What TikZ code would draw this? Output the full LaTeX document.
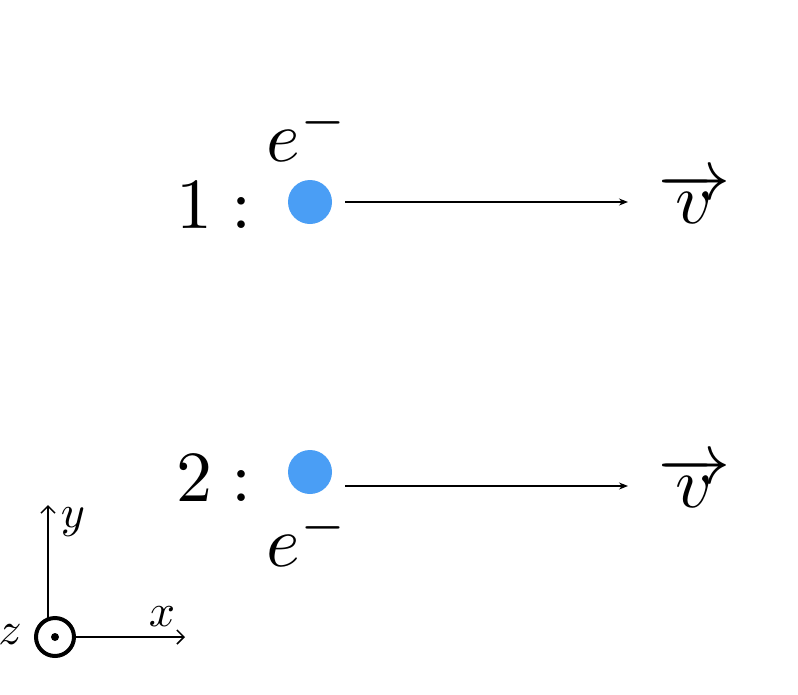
\documentclass[tikz,border=0pt]{standalone}
\usetikzlibrary{arrows.meta}
\begin{document}
\begin{tikzpicture}[x=1pt,y=-1pt,
  elec/.style={circle,fill={rgb,255:red,74;green,158;blue,245},minimum size=44pt,inner sep=0pt},
  big/.style={scale=7.2,inner sep=0pt},
  med/.style={scale=4.6,inner sep=0pt},
  vel/.style={-{Stealth[length=9pt,width=7pt]},line width=1.2pt}]
\useasboundingbox (0,0) rectangle (798,694);
\node[elec] (e1) at (310,202) {};
\coordinate (s1) at (345,202);
\coordinate (a1) at (628,202);
\draw[vel] (s1) -- (a1);
\node[big] (v1) at (694,198) {$\overrightarrow{v}$};
\node[big] (q1) at (308,133) {$e^-$};
\node[big] (n1) at (214,205) {$1:$};
\node[elec] (e2) at (310,472) {};
\coordinate (s2) at (345,486);
\coordinate (a2) at (628,486);
\draw[vel] (s2) -- (a2);
\node[big] (v2) at (694,482) {$\overrightarrow{v}$};
\node[big] (q2) at (308,538) {$e^-$};
\node[big] (n2) at (214,478) {$2:$};
\node[circle,draw,line width=4pt,minimum size=38pt,inner sep=0pt] (o) at (55,637) {};
\fill (o.center) circle (4pt);
\coordinate (yt) at (48,505);
\coordinate (xt) at (185,637);
\coordinate (yb) at (48,618);
\draw[-{Straight Barb[length=7pt]},line width=1.5pt] (yb) -- (yt);
\draw[-{Straight Barb[length=7pt]},line width=1.5pt] (o.east) -- (xt);
\node[med] (ly) at (73,522) {$y$};
\node[med] (lx) at (162,617) {$x$};
\node[med] (lz) at (10,635) {$z$};
\end{tikzpicture}
\end{document}
